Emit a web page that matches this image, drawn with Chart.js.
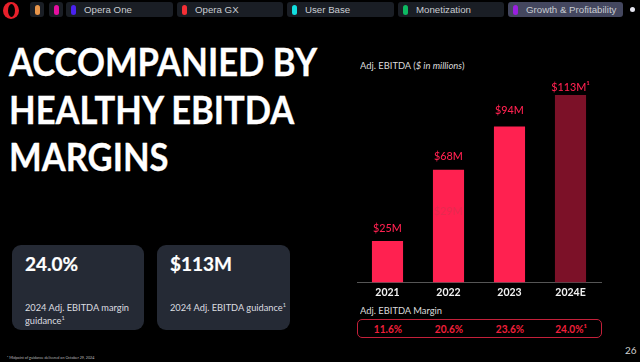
<!DOCTYPE html>
<html><head><meta charset="utf-8">
<script src="https://cdn.jsdelivr.net/npm/chart.js@4"></script>
<style>
html,body{margin:0;padding:0;background:#000;width:640px;height:362px;overflow:hidden}
body{position:relative;font-family:Lato,"Open Sans",sans-serif;color:#fff}
.abs{position:absolute;white-space:nowrap}
.sx{transform-origin:0 50%;transform:scaleX(.9)}
.pill{position:absolute;top:2px;height:15px;background:#1a1e25;border-radius:3px;font:9.7px "Liberation Sans",Arial,sans-serif;color:#c9ccd1;line-height:15px}
.pill i{position:absolute;left:5px;top:3px;width:5px;height:10px;border-radius:2.5px}
.pill span{position:absolute;top:0;white-space:nowrap}
.card{position:absolute;top:245px;height:85px;background:#252a35;border-radius:9px}
sup{font-size:60%;line-height:0;vertical-align:super}
#wrap{position:absolute;left:340px;top:70px;width:300px;height:233px}
</style></head><body>
<div id="nav"></div>
<div class="abs" style="left:3px;top:2px;width:16px;height:17px;background:#e8202b;border-radius:50%"></div>
<div class="abs" style="left:7.5px;top:4px;width:7px;height:13px;background:#000;border-radius:50%"></div>
<div class="abs" style="left:630px;top:7px;width:5px;height:5px;background:#e4e4ee;border-radius:50%"></div>

<div class="abs sx" id="title" style="left:9px;top:38px;font:700 38px/47.5px Lato,sans-serif;color:#fff;transform:scaleX(.91);-webkit-text-stroke:.3px #fff">ACCOMPANIED BY<br>HEALTHY EBITDA<br>MARGINS</div>

<div class="abs sx" style="left:360px;top:59px;font-size:10.4px;color:#dcdcdc">Adj. EBITDA (<em>$ in millions</em>)</div>

<div class="card" style="left:12px;width:132px"></div>
<div class="card" style="left:157px;width:133px"></div>
<div class="abs" style="left:25px;top:252px;font:700 19px/24px Lato,sans-serif;-webkit-text-stroke:.2px #fff">24.0%</div>
<div class="abs" style="left:170px;top:252px;font:700 19px/24px Lato,sans-serif;-webkit-text-stroke:.2px #fff">$113M</div>
<div class="abs sx" style="left:25px;top:301px;font-size:10.3px;line-height:12.5px;color:#dcdde0">2024 Adj. EBITDA margin<br>guidance<sup>1</sup></div>
<div class="abs sx" style="left:170px;top:301px;font-size:10.3px;line-height:12.5px;color:#dcdde0">2024 Adj. EBITDA guidance<sup>1</sup></div>
<div class="abs" style="left:7px;top:356px;font-size:3.7px;line-height:4px;color:#bbb">¹ Midpoint of guidance delivered on October 29, 2024</div>

<div id="wrap"><canvas id="c" width="300" height="233"></canvas></div>

<div class="abs sx" style="left:360px;top:304px;font-size:10.4px;line-height:13px;color:#dcdcdc">Adj. EBITDA Margin</div>
<div class="abs" style="left:357px;top:319px;width:243px;height:17px;border:1px solid #c4203a;border-radius:5px"></div>
<div id="margins"></div>
<div class="abs" style="left:625px;top:344px;font-size:10px;color:#d0d0d0">26</div>

<script>
const categories = ["2021","2022","2023","2024E"];
const ebitda = [25,68,94,113];
const valueLabels = ["$25M","$68M","$94M","$113M¹"];
const margins = ["11.6%","20.6%","23.6%","24.0%¹"];
const barColors = ["#ff2150","#ff2150","#ff2150","#7c1128"];
const ghostLabel = "$29M";
const ghostValue = 43;
const navItems = ["Opera One","Opera GX","User Base","Monetization","Growth & Profitability"];

const labelGaps = [13,14,16,8];
const navGeom = [[30,14,"#e8954a",""],[49,14,"#e60fa0",""],[66,107,"#4a22f0",0],[177,106,"#f52f35",1],[287,107,"#12dfe0",2],[398,106,"#0dba62",3],[508,115,"#9a1fe0",4]];
const nav = document.getElementById("nav");
navGeom.forEach(g=>{
  const p=document.createElement("div");p.className="pill";
  p.style.left=g[0]+"px";p.style.width=g[1]+"px";
  if(g[3]===4){p.style.background="#44475f";}
  const dot=document.createElement("i");dot.style.background=g[2];
  p.appendChild(dot);
  if(g[3]!==""){const s=document.createElement("span");s.textContent=navItems[g[3]];s.style.left="18px";p.appendChild(s);}
  nav.appendChild(p);
});

function squeezed(ctx,text,x,y){
  ctx.save();ctx.translate(x,y);ctx.scale(.9,1);ctx.fillText(text,0,0);ctx.restore();
}
const labelPlugin = {
  id:"labels",
  afterDatasetsDraw(chart){
    const {ctx,scales:{x,y}}=chart;
    ctx.save();
    ctx.textAlign="center";ctx.textBaseline="middle";
    ctx.font="500 12px Lato, sans-serif";
    ctx.fillStyle="#ff2150";
    ebitda.forEach((v,i)=>{
      squeezed(ctx,valueLabels[i],x.getPixelForValue(i),y.getPixelForValue(v)-labelGaps[i]);
    });
    ctx.fillStyle="#e62a50";
    squeezed(ctx,ghostLabel,x.getPixelForValue(1),y.getPixelForValue(ghostValue));
    ctx.restore();
  }
};
const chart = new Chart(document.getElementById("c"),{
  type:"bar",
  data:{labels:categories,datasets:[{data:ebitda,backgroundColor:barColors,barPercentage:0.51,categoryPercentage:1,borderWidth:0}]},
  options:{
    responsive:false,animation:false,
    layout:{padding:{left:17,right:39,top:25,bottom:0}},
    plugins:{legend:{display:false},tooltip:{enabled:false}},
    scales:{
      x:{grid:{display:false,drawTicks:false},border:{color:"#555",width:1},
         ticks:{color:"#f2f2f2",font:{family:"Lato",weight:"700",size:10.5},padding:4,maxRotation:0}},
      y:{display:false,min:0,max:113}
    }
  },
  plugins:[labelPlugin]
});

const cx=[387.5,448.5,509.5,570.5];
const mEl=document.getElementById("margins");
margins.forEach((m,i)=>{
  const d=document.createElement("div");d.className="abs";
  d.style.cssText=`left:${cx[i]-30}px;width:60px;text-align:center;top:320px;font:700 11.5px/17px Lato,sans-serif;color:#f01f3a;transform:scaleX(.88)`;
  d.textContent=m;mEl.appendChild(d);
});
</script>
</body></html>
